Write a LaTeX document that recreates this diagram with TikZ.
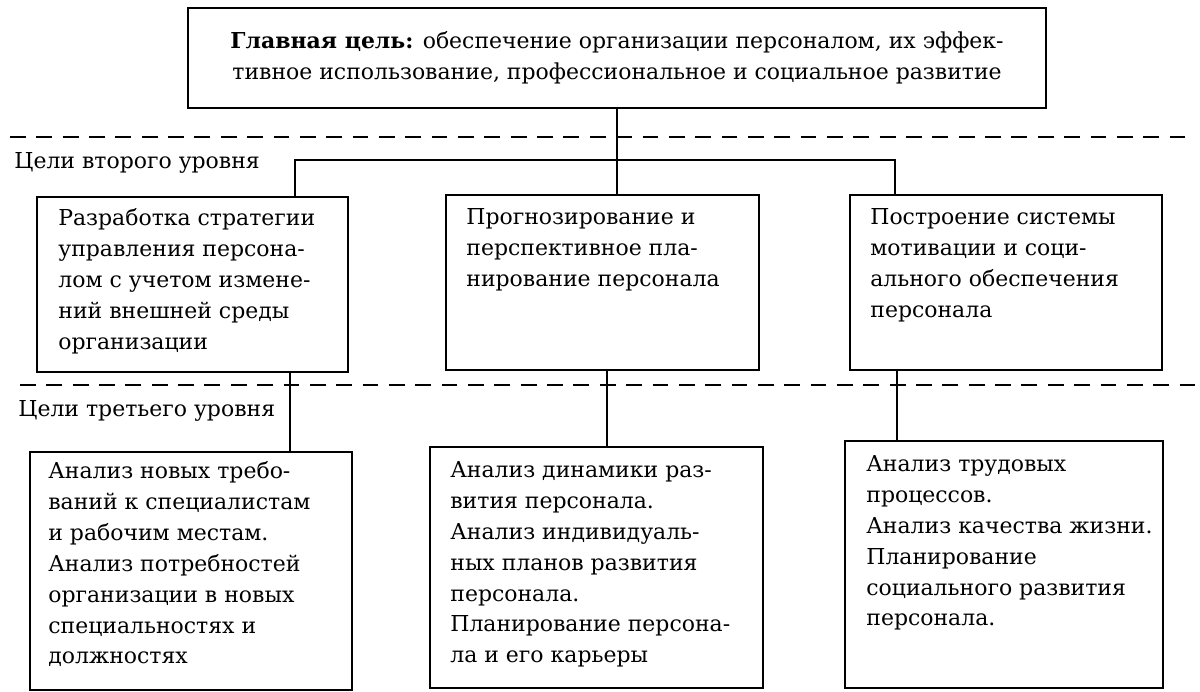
\documentclass[tikz,border=0pt]{standalone}
\usepackage{fontspec}
\setmainfont{DejaVu Serif}
\usetikzlibrary{positioning}
\tikzset{
  goalbox/.style={draw, line width=0.6pt, inner sep=0pt},
  goaltext/.style={anchor=north west, align=left, inner sep=0pt, font=\fontsize{12.5pt}{17.6pt}\selectfont},
  levelline/.style={dashed, line width=0.6pt, dash pattern=on 9pt off 6pt},
  link/.style={line width=0.6pt}
}
\begin{document}
\begin{tikzpicture}[x=0.02cm, y=-0.02cm]
  \useasboundingbox (0,0) rectangle (1200,691);
  %%%%% main goal %%%%%
  \node[goalbox, minimum width=858*0.02cm, minimum height=100*0.02cm] (main) at (617,58) {};
  \node[align=center, inner sep=0pt, font=\fontsize{12.5pt}{17.6pt}\selectfont] at (main.center)
    {\textbf{Главная цель:} обеспечение организации персоналом, их эффек-\\тивное использование, профессиональное и социальное развитие};
  \draw[levelline] (10,137) -- (1195,137);
  \node[goaltext] at (14,152) {Цели второго уровня};
  %%%%% second level %%%%%
  \node[goalbox, minimum width=311*0.02cm, minimum height=175*0.02cm] (s1) at (192.5,284.5) {};
  \node[goalbox, minimum width=313*0.02cm, minimum height=175*0.02cm] (s2) at (602.5,282.5) {};
  \node[goalbox, minimum width=312*0.02cm, minimum height=175*0.02cm] (s3) at (1006,282.5) {};
  \node[goaltext] at (58,208) {Разработка стратегии\\управления персона-\\лом с учетом измене-\\ний внешней среды\\организации};
  \node[goaltext] at (466,208) {Прогнозирование и\\перспективное пла-\\нирование персонала};
  \node[goaltext] at (870,208) {Построение системы\\мотивации и соци-\\ального обеспечения\\персонала};
  \coordinate (fork) at (617,160);
  \draw[link] (main.south) -- (fork);
  \draw[link] (fork) -- (s2.north -| fork);
  \draw[link] (s1.north -| 295,0) |- (fork) -| (s3.north -| 895,0);
  \draw[levelline] (20,385) -- (1195,385);
  \node[goaltext] at (18,400) {Цели третьего уровня};
  %%%%% third level %%%%%
  \node[goalbox, minimum width=322*0.02cm, minimum height=238*0.02cm] (t1) at (191,571) {};
  \node[goalbox, minimum width=333*0.02cm, minimum height=241*0.02cm] (t2) at (596.5,567.5) {};
  \node[goalbox, minimum width=318*0.02cm, minimum height=247*0.02cm] (t3) at (1004,564.5) {};
  \node[goaltext] at (48,461) {Анализ новых требо-\\ваний к специалистам\\и рабочим местам.\\Анализ потребностей\\организации в новых\\специальностях и\\должностях};
  \node[goaltext] at (450,461) {Анализ динамики раз-\\вития персонала.\\Анализ индивидуаль-\\ных планов развития\\персонала.\\Планирование персона-\\ла и его карьеры};
  \node[goaltext] at (866,455) {Анализ трудовых\\процессов.\\Анализ качества жизни.\\Планирование\\социального развития\\персонала.};
  \draw[link] (290,372) -- (t1.north -| 290,0);
  \draw[link] (s2.south -| 607,0) -- (t2.north -| 607,0);
  \draw[link] (s3.south -| 897,0) -- (t3.north -| 897,0);
\end{tikzpicture}
\end{document}
